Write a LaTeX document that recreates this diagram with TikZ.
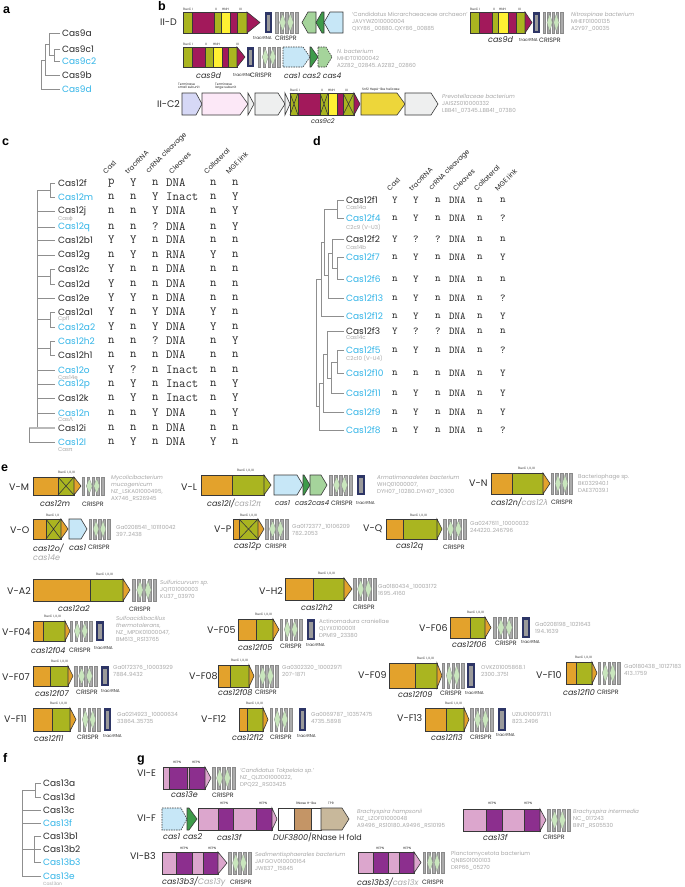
\documentclass[tikz,border=0pt]{standalone}
\usepackage{fontspec}
\setmainfont{Poppins}
\newfontfamily\gk{DejaVu Sans}
\newfontfamily\hb{Liberation Sans}
\definecolor{olv}{HTML}{AAB520}
\definecolor{mag}{HTML}{A2195B}
\definecolor{yel}{HTML}{FFF033}
\definecolor{org}{HTML}{E3A22C}
\definecolor{pur}{HTML}{8C2F8E}
\definecolor{lpk}{HTML}{DCA6CD}
\definecolor{cLB}{HTML}{C7E7F7}
\definecolor{lgr}{HTML}{A5D49B}
\definecolor{dgr}{HTML}{3E9B4A}
\definecolor{lav}{HTML}{D6D8F6}
\definecolor{pnk}{HTML}{FCE8F7}
\definecolor{gry}{HTML}{EEEFEF}
\definecolor{hel}{HTML}{EDD63A}
\definecolor{brn}{HTML}{C49566}
\definecolor{bge}{HTML}{C8B89B}
\definecolor{nav}{HTML}{2D3566}
\definecolor{trg}{HTML}{9A9A9A}
\definecolor{cyn}{HTML}{33B5E8}
\definecolor{gtx}{HTML}{A8A8A8}
\definecolor{crb}{HTML}{ABABAB}
\definecolor{crk}{HTML}{8A8A8A}
\definecolor{crd}{HTML}{C9E6BD}
\definecolor{txt}{HTML}{2A2A2A}
\definecolor{tln}{HTML}{8F8F8F}
\newcommand\gB[5]{\draw[gl,fill=#5] (#1,#3) rectangle (#2,#4);}
\newcommand\gT[5]{\draw[gl,fill=#5] (#1,#3) -- (#2,{(#3+#4)/2}) -- (#1,#4) -- cycle;}
\newcommand\gX[5]{\draw[gl,fill=#5] (#1,#3) rectangle (#2,#4); \draw[gl] (#1,#3) -- (#2,#4) (#1,#4) -- (#2,#3);}
\newcommand\gA[7]{\draw[gl,fill=#5,#7] (#1,#3) -- ({#2-#6},#3) -- (#2,{(#3+#4)/2}) -- ({#2-#6},#4) -- (#1,#4) -- cycle;}
\newcommand\gR[7]{\draw[gl,fill=#5,#7] (#2,#3) -- ({#1+#6},#3) -- (#1,{(#3+#4)/2}) -- ({#1+#6},#4) -- (#2,#4) -- cycle;}
\newcommand\gC[4]{%
\begin{scope}[shift={(#1,#3)},xscale={(#2-#1)/22},yscale={(#4-#3)/20}]
\foreach \q in {0,4.85,9.7,14.55,19.4}{\draw[fill=crb,draw=crk,line width=0.3pt] (\q,0) rectangle ++(2.6,20);}
\foreach \q in {7.3,14.7}{\draw[fill=crd,draw=crk,line width=0.3pt] ({\q-3},10) -- (\q,1.5) -- ({\q+3},10) -- (\q,18.5) -- cycle;}
\end{scope}}
\newcommand\gTr[4]{\fill[nav] (#1,#3) rectangle (#2,#4); \fill[trg] ({#1+1.6},{#3+2.5}) rectangle ({#2-1.6},{#4-2.5});}
\begin{document}
\begin{tikzpicture}[x=1pt,y=-1pt,
 gl/.style={draw=black!78,line width=0.6pt,line join=miter},
 dsh/.style={dash pattern=on 1.5pt off 1pt},
 tl/.style={draw=tln,line width=0.7pt},
 pl/.style={anchor=base west,inner sep=0,font=\hb\bfseries\fontsize{12.5}{12.5}\selectfont},
 nm/.style={anchor=west,inner sep=0,font=\fontsize{9}{9}\selectfont,text=txt},
 sb/.style={anchor=west,inner sep=0,font=\fontsize{5.5}{6}\selectfont,text=gtx},
 vc/.style={anchor=west,inner sep=0,font=\ttfamily\fontsize{12.5}{12.5}\selectfont,text=txt},
 vd/.style={anchor=west,inner sep=0,font=\ttfamily\fontsize{10.5}{10.5}\selectfont,text=txt},
 hc/.style={anchor=south west,rotate=45,inner sep=0,font=\fontsize{6.8}{6.8}\selectfont,text=txt},
 tp/.style={anchor=west,inner sep=0,font=\fontsize{9.5}{9.5}\selectfont,text=txt},
 gi/.style={anchor=west,inner sep=0,font=\itshape\fontsize{8}{8}\selectfont,text=txt},
 gs/.style={anchor=west,inner sep=0,font=\itshape\fontsize{7}{7}\selectfont,text=txt},
 cr/.style={anchor=west,inner sep=0,font=\fontsize{6.3}{6.3}\selectfont,text=txt},
 tr/.style={anchor=west,inner sep=0,font=\fontsize{4.2}{4.2}\selectfont,text=txt},
 rv/.style={anchor=west,inner sep=0,font=\fontsize{3.2}{3.2}\selectfont,text=txt},
 ac/.style={anchor=north west,inner sep=0,align=left,font=\fontsize{5.6}{7}\selectfont,text=gtx}]
\useasboundingbox (0,0) rectangle (685,887);
\fill[white] (0,0) rectangle (685,887);
% panel letters
\node[pl] (la) at (3,13) {a};
\node[pl] (lb) at (158,10) {b};
\node[pl] (lc) at (2,145) {c};
\node[pl] (ld) at (313,145) {d};
\node[pl] (le) at (1,471) {e};
\node[pl] (lf) at (3,762) {f};
\node[pl] (lg) at (137,762) {g};
% ---------- panel a
\foreach \yy/\nn/\cc in {33/Cas9a/txt,49/Cas9c1/txt,61/Cas9c2/cyn,75/Cas9b/txt,89/Cas9d/cyn}{\node[nm,text=\cc] at (62,\yy) {\nn};}
\draw[tl] (60,33) -- (49,33) -- (49,55);
\draw[tl] (60,49) -- (54,49) -- (54,61) -- (60,61);
\draw[tl] (49,55) -- (54,55);
\draw[tl] (45,44) -- (49,44);
\draw[tl] (45,44) -- (45,75) -- (60,75);
\draw[tl] (41,60) -- (45,60);
\draw[tl] (41,60) -- (41,89) -- (60,89);
% ---------- panel b
\node[tp] at (160,22) {II-D};
\node[tp] at (157,104) {II-C2};
% row 1 left
\gB{183}{192}{12}{33}{olv}\gB{192}{214}{12}{33}{mag}\gB{214}{221}{12}{33}{olv}\gB{221}{230}{12}{33}{yel}\gB{230}{237}{12}{33}{mag}\gB{237}{247}{12}{33}{olv}\gT{247}{260}{12}{33}{mag}
\gTr{265}{272}{12}{33}
\gC{275}{298}{12}{33}
\gR{302}{316}{12}{33}{lgr}{6}{}
\gR{316}{324}{12}{33}{dgr}{6}{}
\gR{324}{343}{12}{33}{cLB}{6}{}
\node[rv] at (183,9.5) {RuvC I};\node[rv] at (215,9.5) {II};\node[rv] at (222,9.5) {HNH};\node[rv] at (239,9.5) {III};
\node[tr] at (253,38) {tracrRNA};\node[cr] at (275,38) {CRISPR};
\node[ac] at (352,12) {`Candidatus Micrarchaeaceae archaeon'\\JAVYWZ010000004\\QXY86\_00880..QXY86\_00885};
% row 1 right
\gB{470}{479}{12}{33}{olv}\gB{479}{492}{12}{33}{mag}\gB{492}{498}{12}{33}{olv}\gB{498}{508}{12}{33}{yel}\gB{508}{516}{12}{33}{mag}\gB{516}{525}{12}{33}{olv}\gT{525}{532}{12}{33}{mag}
\gTr{533}{540}{12}{33}
\gC{543}{563}{12}{33}
\node[rv] at (470,9.5) {RuvC I};\node[rv] at (493,9.5) {II};\node[rv] at (499,9.5) {HNH};\node[rv] at (518,9.5) {III};
\node[gi] at (488,40) {cas9d};\node[tr] at (519,40) {tracrRNA};\node[cr] at (539,40) {CRISPR};
\node[ac] at (571,12) {\textit{Nitrospinae bacterium}\\MHEF01000135\\A2Y97\_00035};
% row 2
\gB{183}{192}{47}{67}{olv}\gB{192}{205}{47}{67}{mag}\gB{205}{213}{47}{67}{olv}\gB{213}{222}{47}{67}{yel}\gB{222}{228}{47}{67}{mag}\gB{228}{237}{47}{67}{olv}\gT{237}{245}{47}{67}{mag}
\gTr{247}{254}{47}{67}
\gC{258}{280}{47}{67}
\gA{283}{310}{47}{67}{cLB}{7}{dsh}
\gA{310}{318}{47}{67}{dgr}{7}{}
\gA{318}{332}{47}{67}{lgr}{6}{dsh}
\node[rv] at (183,44) {RuvC I};\node[rv] at (205,44) {II};\node[rv] at (213,44) {HNH};\node[rv] at (236,44) {III};
\node[gi] at (196,76) {cas9d};\node[tr] at (233,75) {tracrRNA};\node[cr] at (250,75.5) {CRISPR};
\node[gi,font=\itshape\fontsize{7.6}{7.6}\selectfont] at (284,76) {cas1 cas2 cas4};
\node[ac] at (337,49) {\textit{N. bacterium}\\MHDT01000042\\A2Z82\_02845..A2Z82\_02860};
% row 3
\gA{182}{202}{93}{115}{lav}{6}{}
\gA{202}{248}{93}{115}{pnk}{8}{}
\gA{248}{254}{93}{115}{gry}{6}{}
\gA{255}{285}{93}{115}{gry}{7}{}
\gA{285}{290}{93}{115}{gry}{5}{}
\gX{290}{298}{93}{115}{olv}\gB{298}{320}{93}{115}{mag}\gX{320}{328}{93}{115}{olv}\gB{328}{337}{93}{115}{yel}\gB{337}{343}{93}{115}{mag}\gX{343}{354}{93}{115}{olv}\gT{354}{360}{93}{115}{mag}
\gA{361}{405}{93}{115}{hel}{8}{}
\gA{405}{438}{93}{115}{gry}{7}{}
\node[rv,align=left] at (178,86) {Terminase\\small subunit};
\node[rv,align=left] at (215,86) {Terminase\\large subunit};
\node[rv] at (290,90) {RuvC I};\node[rv] at (321,90) {II};\node[rv] at (328,90) {HNH};\node[rv] at (345,90) {III};
\node[rv] at (362,90) {Snf2 HepA-like helicase};
\node[gi,font=\itshape\fontsize{6.5}{6.5}\selectfont] at (311,121) {cas9c2};
\node[ac] at (442,94) {\textit{Prevotellaceae bacterium}\\JAISZS010000332\\LBB41\_07345..LBB41\_07380};
% ---------- panel c
\node[hc] at (106,175) {Cas1};
\node[hc] at (128,175) {tracrRNA};
\node[hc] at (150,175) {crRNA cleavage};
\node[hc] at (172,175) {Cleaves};
\node[hc] at (207,175) {Collateral};
\node[hc] at (229,175) {MGE link};
\foreach \yy/\nn/\cc/\va/\vb/\vcc/\vdd/\ve/\vf in {
183/Cas12f/txt/p/Y/n/DNA/n/n,
197/Cas12m/cyn/n/n/Y/Inact/n/Y,
211/Cas12j/txt/n/n/Y/DNA/n/Y,
227/Cas12q/cyn/n/n/?/DNA/n/Y,
240/Cas12b1/txt/Y/Y/n/DNA/n/n,
255/Cas12g/txt/n/Y/n/RNA/Y/n,
269/Cas12c/txt/Y/n/n/DNA/n/n,
284/Cas12d/txt/Y/n/n/DNA/n/n,
298/Cas12e/txt/Y/Y/n/DNA/n/n,
312/Cas12a1/txt/Y/n/Y/DNA/Y/n,
327/Cas12a2/cyn/Y/n/Y/DNA/Y/n,
341/Cas12h2/cyn/n/n/?/DNA/n/Y,
355/Cas12h1/txt/n/n/n/DNA/n/n,
370/Cas12o/cyn/Y/?/n/Inact/n/n,
384/Cas12p/cyn/n/Y/n/Inact/n/Y,
398/Cas12k/txt/n/Y/n/Inact/n/Y,
413/Cas12n/cyn/n/n/Y/DNA/n/Y,
428/Cas12i/txt/n/n/n/DNA/n/n,
442/Cas12l/cyn/n/Y/n/DNA/Y/n}{
\node[nm,text=\cc] at (58,\yy) {\nn};
\node[vc] at (108,\yy) {\va};\node[vc] at (130,\yy) {\vb};\node[vc] at (152,\yy) {\vcc};
\node[vc] at (166,\yy) {\vdd};\node[vc] at (210,\yy) {\ve};\node[vc] at (232,\yy) {\vf};}
\node[sb] at (58,219) {Cas{\gk ϕ}};
\node[sb] at (58,319) {Cpf1};
\node[sb] at (58,378) {Cas14e};
\node[sb] at (58,420) {Cas{\gk Λ}};
\node[sb] at (58,450) {Cas{\gk π}};
\draw[tl] (55,183) -- (50,183) -- (50,197) -- (55,197);
\draw[tl] (37,190) -- (50,190);
\foreach \yy in {211,227,240,255,298,370,384,398,413}{\draw[tl] (37,\yy) -- (55,\yy);}
\draw[tl] (55,269) -- (50,269) -- (50,284) -- (55,284); \draw[tl] (37,276.5) -- (50,276.5);
\draw[tl] (55,312) -- (50,312) -- (50,327) -- (55,327); \draw[tl] (37,319.5) -- (50,319.5);
\draw[tl] (55,341) -- (50,341) -- (50,355) -- (55,355); \draw[tl] (37,348) -- (50,348);
\draw[tl] (37,190) -- (37,428);
\draw[draw=gtx!80,line width=1.4pt] (29,428) -- (55,428);
\draw[tl] (29,428) -- (29,442) -- (55,442);
% ---------- panel d
\node[hc] at (390,192) {Cas1};
\node[hc] at (412,192) {tracrRNA};
\node[hc] at (433,192) {crRNA cleavage};
\node[hc] at (456,192) {Cleaves};
\node[hc] at (477,192) {Collateral};
\node[hc] at (498,192) {MGE link};
\foreach \yy/\nn/\cc/\va/\vb/\vcc/\vdd/\ve/\vf in {
200/Cas12f1/txt/Y/Y/n/DNA/n/n,
218/Cas12f4/cyn/n/Y/n/DNA/n/?,
239/Cas12f2/txt/Y/?/?/DNA/n/n,
257/Cas12f7/cyn/n/Y/n/DNA/n/Y,
279/Cas12f6/cyn/n/Y/n/DNA/n/n,
298/Cas12f13/cyn/n/Y/n/DNA/n/?,
316/Cas12f12/cyn/n/Y/n/DNA/n/Y,
331/Cas12f3/txt/Y/?/?/DNA/n/n,
350/Cas12f5/cyn/n/Y/n/DNA/n/?,
373/Cas12f10/cyn/n/n/n/DNA/n/Y,
393/Cas12f11/cyn/n/Y/n/DNA/n/Y,
412/Cas12f9/cyn/n/Y/n/DNA/n/Y,
430/Cas12f8/cyn/n/Y/n/DNA/n/?}{
\node[nm,text=\cc] at (346,\yy) {\nn};
\node[vd] at (392,\yy) {\va};\node[vd] at (413,\yy) {\vb};\node[vd] at (435,\yy) {\vcc};
\node[vd] at (449,\yy) {\vdd};\node[vd] at (477,\yy) {\ve};\node[vd] at (500,\yy) {\vf};}
\node[sb] at (346,208) {Cas14a};
\node[sb] at (346,227) {C2c9 (V-U3)};
\node[sb] at (346,247) {Cas14b};
\node[sb] at (346,338) {Cas14c};
\node[sb] at (346,358) {C2c10 (V-U4)};
\draw[tl] (344,200) -- (337,200) -- (337,218) -- (344,218);
\draw[tl] (344,257) -- (337,257) -- (337,279) -- (344,279);
\draw[tl] (344,239) -- (332,239) -- (332,268) -- (337,268);
\draw[tl] (344,298) -- (328,298) -- (328,253) -- (332,253);
\draw[tl] (337,209) -- (324,209) -- (324,275) -- (328,275);
\draw[tl] (344,316) -- (321,316) -- (321,242) -- (324,242);
\draw[tl] (344,350) -- (337,350) -- (337,373) -- (344,373);
\draw[tl] (344,393) -- (331,393) -- (331,362) -- (337,362);
\draw[tl] (344,331) -- (327,331) -- (327,378) -- (331,378);
\draw[tl] (344,412) -- (323,412) -- (323,354) -- (327,354);
\draw[tl] (344,430) -- (319,430) -- (319,383) -- (323,383);
\draw[tl] (321,279) -- (316,279) -- (316,406) -- (319,406);
% ---------- panel e
% V-M
\node[tp] at (9,487) {V-M};
\gB{33}{58}{477}{495}{org}\gX{58}{74}{477}{495}{olv}\gT{74}{81}{477}{495}{org}\gC{82}{104}{477}{495}
\node[rv] at (58,473) {RuvC I, II, III};
\node[gi] at (40,504) {cas12m};\node[cr] at (82,504) {CRISPR};
\node[ac] at (111,475) {\textit{Mycolicibacterium}\\\textit{mucogenicum}\\NZ\_LSKA01000495,\\AX746\_RS26945};
% V-L
\node[tp] at (181,487) {V-L};
\gB{201}{232}{475}{495}{org}\gB{232}{264}{475}{495}{olv}\gT{264}{271}{475}{495}{olv}
\gA{274}{303}{475}{495}{cLB}{6}{}\gA{303}{310}{475}{495}{dgr}{6}{}\gA{310}{327}{475}{495}{lgr}{6}{}
\gC{329}{352}{475}{495}\gTr{357}{365}{475}{495}
\node[rv] at (237,471) {RuvC I, II, III};
\node[gi] at (207,503) {cas12l/\textcolor{gtx}{cas12{\gk π}}};
\node[gs] at (275,503) {cas1};\node[gs] at (295,503) {cas2};\node[gs] at (312,503) {cas4};
\node[cr] at (331,503) {CRISPR};\node[tr] at (356,503) {tracrRNA};
\node[ac] at (377,475) {\textit{Armatimonadetes bacterium}\\WHQ01000007,\\DYH07\_10280..DYH07\_10300};
% V-N
\node[tp] at (469,483) {V-N};
\gB{491}{512}{473}{494}{org}\gB{512}{543}{473}{494}{olv}\gT{543}{550}{473}{494}{org}\gC{551}{572}{473}{494}
\node[rv] at (518,469) {RuvC I, II, III};
\node[gi] at (491,502) {cas12n/\textcolor{gtx}{cas12{\gk λ}}};\node[cr] at (551,502) {CRISPR};
\node[ac] at (578,474) {Bacteriophage sp.\\BK032940.1\\DAE37039.1};
% V-O
\node[tp] at (10,530) {V-O};
\gB{33}{46}{519}{539}{org}\gX{46}{61}{519}{539}{olv}\gT{61}{68}{519}{539}{org}
\gA{69}{87}{519}{539}{cLB}{6}{}\gC{89}{110}{519}{539}
\node[rv] at (46,516) {RuvC I, II};
\node[gi] at (33,548) {cas12o/};\node[gi,text=gtx] at (33,558) {cas14e};
\node[gi] at (69,548) {cas1};\node[cr] at (88,547) {CRISPR};
\node[ac] at (116,525) {Ga0208541\_101110042\\397..2438};
% V-P
\node[tp] at (214,529) {V-P};
\gB{233}{239}{519}{539}{org}\gX{239}{258}{519}{539}{olv}\gT{258}{264}{519}{539}{org}\gC{265}{288}{519}{539}
\node[rv] at (240,515.5) {RuvC I, II, III};
\node[gi] at (234,547) {cas12p};\node[cr] at (265,546) {CRISPR};
\node[ac] at (292,524) {Ga0172377\_10106209\\782..2053};
% V-Q
\node[tp] at (363,529) {V-Q};
\gB{386}{403}{519}{539}{org}\gB{403}{437}{519}{539}{olv}\gT{437}{442}{519}{539}{olv}\gC{443}{466}{519}{539}
\node[rv] at (410,515.5) {RuvC I, II, III};
\node[gi] at (396,547) {cas12q};\node[cr] at (443,547) {CRISPR};
\node[ac] at (470,521) {Ga0247611\_10000032\\244220..246796};
% V-A2
\node[tp] at (7,591) {V-A2};
\gB{33}{90}{579}{601}{org}\gB{90}{123}{579}{601}{olv}\gT{123}{130}{579}{601}{org}\gC{132}{156}{579}{601}
\node[rv] at (96,575) {RuvC I, II, III};
\node[gi] at (58,609) {cas12a2};\node[cr] at (129,609) {CRISPR};
\node[ac] at (160,580) {\textit{Sulfuricurvum sp.}\\JQIT01000003\\KU37\_03970};
% V-H2
\node[tp] at (259,591) {V-H2};
\gB{285}{313}{578}{600}{org}\gB{313}{344}{578}{600}{olv}\gT{344}{352}{578}{600}{org}\gC{353}{376}{578}{600}
\node[rv] at (318,574) {RuvC I, II, III};
\node[gi] at (301,608) {cas12h2};\node[cr] at (353,607) {CRISPR};
\node[ac] at (378,584) {Ga0180434\_10003172\\1695..4160};
% V-F04
\node[tp] at (2,632) {V-F04};
\gB{33}{43}{621}{641}{org}\gB{43}{65}{621}{641}{olv}\gT{65}{70}{621}{641}{org}\gC{70}{92}{621}{641}\gTr{96}{104}{621}{641}
\node[rv] at (44,617) {RuvC I, II, III};
\node[gi] at (31,650) {cas12f04};\node[cr] at (69,650) {CRISPR};\node[tr] at (94,648) {tracrRNA};
\node[ac] at (116,616) {\textit{Sulfoacidibacillus}\\\textit{thermotolerans,}\\NZ\_MPDK01000047,\\BM613\_RS13765};
% V-F05
\node[tp] at (207,630) {V-F05};
\gB{238}{256}{619}{640}{org}\gB{256}{273}{619}{640}{olv}\gT{273}{279}{619}{640}{org}\gC{280}{302}{619}{640}\gTr{307}{315}{619}{640}
\node[rv] at (255,615) {RuvC I, II, III};
\node[gi] at (238,647) {cas12f05};\node[cr] at (280,646) {CRISPR};\node[tr] at (306,645) {tracrRNA};
\node[ac] at (319,619) {Actinomadura craniellae\\QLYX01000011\\DPM19\_23380};
% V-F06
\node[tp] at (419,628) {V-F06};
\gB{450}{470}{617}{638}{org}\gB{470}{485}{617}{638}{olv}\gT{485}{491}{617}{638}{org}\gC{493}{517}{617}{638}\gTr{522}{530}{617}{638}
\node[rv] at (467,613) {RuvC I, II, III};
\node[gi] at (452,644) {cas12f06};\node[cr] at (495,643) {CRISPR};\node[tr] at (521,642) {tracrRNA};
\node[ac] at (535,622) {Ga0208198\_1021643\\194..1639};
% V-F07
\node[tp] at (2,677) {V-F07};
\gB{33}{50}{666}{686}{org}\gB{50}{68}{666}{686}{olv}\gT{68}{73}{666}{686}{org}\gC{74}{97}{666}{686}\gTr{101}{109}{666}{686}
\node[rv] at (51,662) {RuvC I, II, III};
\node[gi] at (35,693) {cas12f07};\node[cr] at (76,692) {CRISPR};\node[tr] at (101,691) {tracrRNA};
\node[ac] at (113,665) {Ga0172376\_10003929\\7884..9432};
% V-F08
\node[tp] at (189,676) {V-F08};
\gB{218}{230}{665}{687}{org}\gB{230}{249}{665}{687}{olv}\gT{249}{254}{665}{687}{org}\gC{255}{278}{665}{687}
\node[rv] at (231,661) {RuvC I, II, III};
\node[gi] at (218,693) {cas12f08};\node[cr] at (255,692) {CRISPR};
\node[ac] at (282,665) {Ga0302320\_10002971\\207-1871};
% V-F09
\node[tp] at (358,675) {V-F09};
\gB{389}{415}{663}{688}{org}\gB{415}{437}{663}{688}{olv}\gT{437}{442}{663}{688}{org}\gC{442}{464}{663}{688}\gTr{467}{475}{663}{688}
\node[rv] at (417,659) {RuvC I, II, III};
\node[gi] at (398,694) {cas12f09};\node[cr] at (440,693) {CRISPR};\node[tr] at (465,693) {tracrRNA};
\node[ac] at (481,665) {OVKZ01005868.1\\2300..3751};
% V-F10
\node[tp] at (536,675) {V-F10};
\gB{566}{576}{662}{684}{org}\gB{576}{592}{662}{684}{olv}\gT{592}{597}{662}{684}{org}\gC{598}{620}{662}{684}
\node[rv] at (575,658) {RuvC I, II, III};
\node[gi] at (563,692) {cas12f10};\node[cr] at (597,692) {CRISPR};
\node[ac] at (624,664) {Ga0180438\_10127183\\413..1759};
% V-F11
\node[tp] at (4,719) {V-F11};
\gB{33}{52}{708}{731}{org}\gB{52}{70}{708}{731}{olv}\gT{70}{76}{708}{731}{org}\gC{78}{100}{708}{731}\gTr{104}{111}{708}{731}
\node[rv] at (50,704) {RuvC I, II, III};
\node[gi] at (34,738) {cas12f11};\node[cr] at (77,737) {CRISPR};\node[tr] at (103,736) {tracrRNA};
\node[ac] at (117,712) {Ga0214923\_10000634\\33864..35735};
% V-F12
\node[tp] at (201,719) {V-F12};
\gB{239}{247}{708}{731}{org}\gB{247}{263}{708}{731}{olv}\gT{263}{268}{708}{731}{org}\gC{270}{292}{708}{731}\gTr{299}{306}{708}{731}
\node[rv] at (246,704) {RuvC I, II, III};
\node[gi] at (232,737) {cas12f12};\node[cr] at (270,737) {CRISPR};\node[tr] at (297,736) {tracrRNA};
\node[ac] at (311,712) {Ga0069787\_10357475\\4735..5898};
% V-F13
\node[tp] at (397,718) {V-F13};
\gB{425}{446}{708}{731}{org}\gB{446}{464}{708}{731}{olv}\gT{464}{469}{708}{731}{org}\gC{470}{493}{708}{731}\gTr{498}{506}{708}{731}
\node[rv] at (445,704) {RuvC I, II, III};
\node[gi] at (431,737) {cas12f13};\node[cr] at (470,737) {CRISPR};\node[tr] at (496,735) {tracrRNA};
\node[ac] at (512,712) {UZIU01009731.1\\823..2496};
% ---------- panel f
\foreach \yy/\nn/\cc in {783/Cas13a/txt,797/Cas13d/txt,810/Cas13c/txt,823/Cas13f/cyn,836/Cas13b1/txt,849/Cas13b2/txt,862/Cas13b3/cyn,876/Cas13e/cyn}{\node[nm,text=\cc] at (43,\yy) {\nn};}
\node[sb,font=\fontsize{4.5}{5}\selectfont] at (43,884) {Cas13an};
\draw[tl] (41,783) -- (35,783) -- (35,797) -- (41,797);
\draw[tl] (22,790) -- (35,790);
\draw[tl] (41,836) -- (34,836) -- (34,862) -- (41,862);
\foreach \yy in {810,823,849,876}{\draw[tl] (22,\yy) -- (41,\yy);}
\draw[tl] (22,790) -- (22,876);
% ---------- panel g
% VI-E
\node[tp] at (137,773) {VI-E};
\gB{163}{169}{767}{789}{lpk}\gB{169}{187}{767}{789}{pur}\gB{187}{189}{767}{789}{lpk}\gB{189}{205}{767}{789}{pur}\gT{205}{211}{767}{789}{lpk}\gC{212}{235}{767}{789}
\node[rv] at (173,762) {HEPN};\node[rv] at (192,762) {HEPN};
\node[gi] at (171,795) {cas13e};\node[cr] at (212,795) {CRISPR};
\node[ac] at (240,768) {\textit{`Candidatus Tokpelaia sp.'}\\NZ\_QLZD01000022,\\DPQ22\_RS03425};
% VI-F left
\node[tp] at (137,818) {VI-F};
\gA{162}{187}{808}{830}{cLB}{6}{dsh}
\gA{187}{197}{808}{830}{dgr}{8}{}
\gB{198}{218}{808}{830}{lpk}\gB{218}{233}{808}{830}{pur}\gB{233}{256}{808}{830}{lpk}\gB{256}{272}{808}{830}{pur}\gT{272}{277}{808}{830}{lpk}
\gB{278}{294}{808}{830}{white}\gB{294}{311}{808}{830}{brn}\gB{311}{321}{808}{830}{white}\gA{321}{349}{808}{830}{bge}{7}{}
\node[rv] at (220,803) {HEPN};\node[rv] at (259,803) {HEPN};
\node[rv] at (296,803) {RNase H-like};\node[rv] at (328,803) {TPR};
\node[gi] at (163,837) {cas1};\node[gi] at (183,837) {cas2};\node[gi] at (217,837) {cas13f};
\node[gi] at (273,837) {DUF3800\upshape/RNase H fold};
\node[ac] at (357,809) {\textit{Brachyspira hampsonii}\\NZ\_LZOF01000048\\A9496\_RS10180..A9496\_RS10195};
% VI-F right
\gB{463}{486}{809}{831}{lpk}\gB{486}{502}{809}{831}{pur}\gB{502}{524}{809}{831}{lpk}\gB{524}{540}{809}{831}{pur}\gT{540}{546}{809}{831}{lpk}\gC{547}{570}{809}{831}
\node[rv] at (488,803) {HEPN};\node[rv] at (524,803) {HEPN};
\node[gi] at (483,837) {cas13f};\node[cr] at (543,837) {CRISPR};
\node[ac] at (573,809) {\textit{Brachyspira intermedia}\\NC\_017243\\BINT\_RS05530};
% VI-B3 left
\node[tp] at (130,856) {VI-B3};
\gB{162}{176}{852}{874}{lpk}\gB{176}{192}{852}{874}{pur}\gB{192}{203}{852}{874}{lpk}\gB{203}{218}{852}{874}{pur}\gT{218}{227}{852}{874}{lpk}\gC{228}{251}{852}{874}
\node[rv] at (180,848) {HEPN};\node[rv] at (208,848) {HEPN};
\node[gi] at (162,882) {cas13b3/\textcolor{gtx}{Cas13y}};\node[cr] at (230,882) {CRISPR};
\node[ac] at (255,852) {\textit{Sedimentisphaerales bacterium}\\JAFGOV010000164\\JW837\_15845};
% VI-B3 right
\gB{358}{373}{852}{873}{lpk}\gB{373}{388}{852}{873}{pur}\gB{388}{399}{852}{873}{lpk}\gB{399}{414}{852}{873}{pur}\gT{414}{421}{852}{873}{lpk}\gC{423}{444}{852}{873}
\node[rv] at (376,848) {HEPN};\node[rv] at (403,848) {HEPN};
\node[gi] at (357,882) {cas13b3/\textcolor{gtx}{cas13x}};\node[cr] at (422,882) {CRISPR};
\node[ac] at (451,851) {Planctomycetota bacterium\\QNBS01000103\\DRP66\_05270};
\end{tikzpicture}
\end{document}
